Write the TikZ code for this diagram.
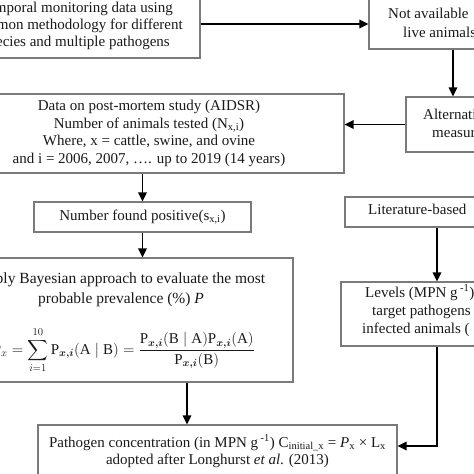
\documentclass[tikz,border=0pt]{standalone}
\usepackage{fix-cm}
\usepackage{amsmath}
\usepackage{fontspec}
\setmainfont{Liberation Serif}
\usetikzlibrary{arrows.meta,calc}
\definecolor{boxgray}{HTML}{7A7A7A}
\definecolor{textc}{HTML}{1A1A1A}
\begin{document}
\begin{tikzpicture}[x=1pt,y=-1pt,
  box/.style={draw=boxgray, line width=1.3pt, inner sep=0pt, rectangle, text=textc, align=center, font=\fontsize{15}{17.5}\selectfont},
  txt/.style={inner sep=0pt, text=textc, font=\fontsize{15}{17.5}\selectfont},
  arr/.style={draw=black, line width=1.5pt, -{Triangle[length=9pt,width=8.5pt]}},
  ln/.style={draw=black, line width=1.5pt}]
\useasboundingbox (0,0) rectangle (474,474);
\clip (0,0) rectangle (474,474);
\fill[white] (0,0) rectangle (474,474);

% boxes
\node[box, minimum width=340, minimum height=68] (tl) at (30,24) {};
\node[box, minimum width=200, minimum height=54] (tr) at (469,22) {};
\node[box, minimum width=160, minimum height=55] (alt) at (486,124.5) {};
\node[box, minimum width=390, minimum height=79] (data) at (149,133.5)
  {Data on post-mortem study (AIDSR)\\
   Number of animals tested (N\textsubscript{x,i})\\
   Where, x = cattle, swine, and ovine\\
   and i = 2006, 2007, …. up to 2019 (14 years)};
\node[box, minimum width=217, minimum height=30] (nfp) at (142.5,217)
  {Number found positive(s\textsubscript{x,i})};
\node[box, minimum width=346, minimum height=124] (bayes) at (120,320) {};
\node[box, minimum width=200, minimum height=30] (lit) at (445,212) {};
\node[box, minimum width=200, minimum height=64] (lev) at (441,314) {};
\node[box, minimum width=359, minimum height=53] (path) at (217.5,451.5)
  {Pathogen concentration (in MPN g\,\textsuperscript{-1}) C\textsubscript{initial\_x} = \textit{P}\textsubscript{x} × L\textsubscript{x}\\
   adopted after Longhurst \textit{et al}. (2013)};

% texts of cut boxes
\node[txt, anchor=mid east] (tl1) at (173,10) {mporal monitoring data using};
\node[txt, anchor=mid east] (tl2) at (183,27) {mmon methodology for different};
\node[txt, anchor=mid east] (tl3) at (170,44) {pecies and multiple pathogens};
\node[txt, anchor=mid west] (tr1) at (388,16) {Not available};
\node[txt, anchor=mid west] (tr2) at (403,35) {live animals};
\node[txt, anchor=mid west] (alt1) at (423,117) {Alternative};
\node[txt, anchor=mid west] (alt2) at (432,135) {measures};
\node[txt, anchor=mid west] (lit1) at (368,212) {Literature-based};
\node[txt, anchor=mid west] (lev1) at (365,295) {Levels (MPN g\,\textsuperscript{-1})};
\node[txt, anchor=mid west] (lev2) at (372,313) {target pathogens};
\node[txt, anchor=mid west] (lev3) at (362,331) {infected animals (};
\node[txt, align=center, font=\fontsize{15.5}{19.5}\selectfont] (bay1) at (121,290)
  {Apply Bayesian approach to evaluate the most\\ probable prevalence (\%) \textit{P}};
\node[txt, anchor=base east, font=\fontsize{15}{18}\selectfont] (eq) at (255,354)
  {$\mathrm{P}_{x} = \displaystyle\sum_{i=1}^{10} \mathrm{P}_{\boldsymbol{x,i}}(\mathrm{A}\mid\mathrm{B}) = \frac{\mathrm{P}_{\boldsymbol{x,i}}(\mathrm{B}\mid\mathrm{A})\mathrm{P}_{\boldsymbol{x,i}}(\mathrm{A})}{\mathrm{P}_{\boldsymbol{x,i}}(\mathrm{B})}$};

% connectors
\coordinate (rx) at (453,0);
\coordinate (bx) at (187,0);
\coordinate (lx) at (437,0);
\coordinate (py) at (0,446);
\draw[arr] (tl.east) -- (tl.east -| tr.west);
\draw[arr] (tr.south -| rx) -- (alt.north -| rx);
\draw[arr] (alt.west) -- (alt.west -| data.east);
\draw[arr] (data.south -| nfp.north) -- (nfp.north);
\draw[arr] (nfp.south) -- (nfp.south |- bayes.north);
\draw[arr] (bayes.south -| bx) -- (path.north -| bx);
\draw[arr] (lit.south -| lx) -- (lev.north -| lx);
\draw[arr] (lev.south -| lx) |- (path.east |- py);
\end{tikzpicture}
\end{document}
